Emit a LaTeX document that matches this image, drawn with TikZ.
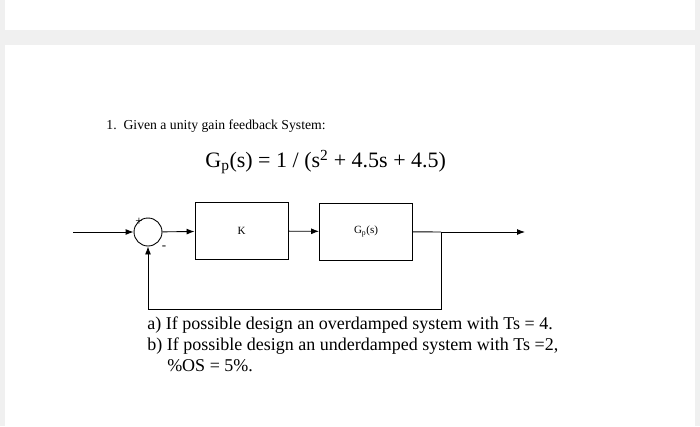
\documentclass[tikz,border=0pt]{standalone}
\usepackage{fontspec}
\setmainfont{Liberation Serif}
\usetikzlibrary{arrows.meta,positioning}
\tikzset{
  block/.style={draw,minimum width=93pt,minimum height=57pt,font=\fontsize{11}{12}\selectfont},
  sumnode/.style={draw,circle,minimum size=28pt,inner sep=0pt},
  sig/.style={-{Latex[length=8pt,width=6pt]}},
  txt/.style={anchor=west,inner sep=0pt}
}
\begin{document}
\begin{tikzpicture}[x=1pt,y=-1pt,line width=0.9pt]
\useasboundingbox (0,0) rectangle (700,426);
\fill[gray!12] (0,0) rectangle (700,426);
\fill[white] (5,0) rectangle (695,30);
\fill[white] (5,45) rectangle (695,426);
% text
\node[txt,font=\fontsize{13.7}{16}\selectfont] (title) at (106,126) {1.\enspace Given a unity gain feedback System:};
\node[txt,font=\fontsize{22}{26}\selectfont] (eq) at (205,162) {G\textsubscript{p}(s) = 1 / (s\textsuperscript{2} + 4.5s + 4.5)};
% blocks
\node[sumnode] (sum) at (148,232) {};
\node[block] (k) at (241.5,231) {K};
\node[block] (gp) at (366,231.5) {G\textsubscript{p}(s)};
\coordinate (in) at (73,232);
\coordinate (br) at (441,232);
\coordinate (out) at (525,232);
\coordinate (fb) at (441,309);
\draw[sig] (in) -- (sum);
\draw[sig] (sum) -- (k);
\draw[sig] (k) -- (gp);
\draw (gp) -- (br);
\draw[sig] (br) -- (out);
\draw[sig] (br) -- (fb) -| (sum);
\node[font=\fontsize{13}{14}\selectfont] (plus) at (139,222) {+};
\node[font=\fontsize{13}{14}\selectfont] (minus) at (164,248) {-};
% questions
\node[txt,font=\fontsize{18}{21}\selectfont,align=left,anchor=north west] (qs) at (147,316)
  {a) If possible design an overdamped system with Ts = 4.\\
   b) If possible design an underdamped system with Ts =2,\\
   \hspace*{1.1em}\%OS = 5\%.};
\end{tikzpicture}
\end{document}
